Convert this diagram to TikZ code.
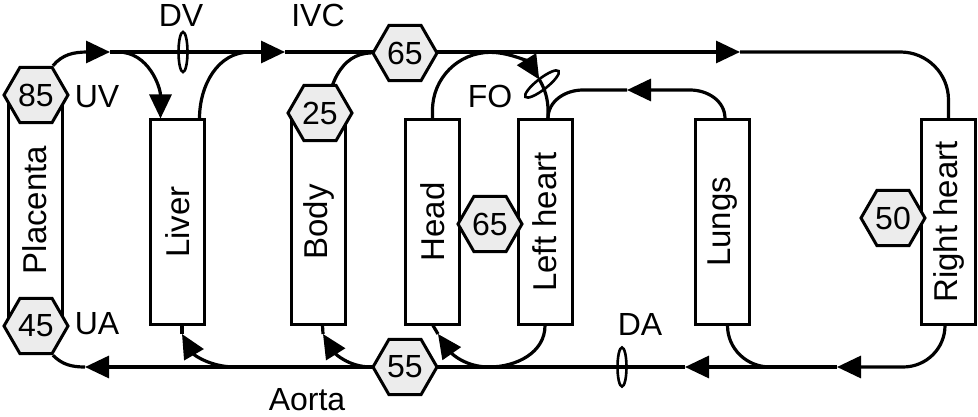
\documentclass[tikz,border=0pt]{standalone}
\usepackage{fontspec}
\usepackage{graphicx}
\setmainfont{Liberation Sans}
\usetikzlibrary{shapes.geometric,arrows.meta,backgrounds,calc}
\definecolor{hexfill}{RGB}{236,236,236}
\tikzset{
  organ/.style={draw, line width=3pt, fill=white, minimum width=54pt, minimum height=204pt, inner sep=0pt, font=\fontsize{33}{33}\selectfont},
  hexnode/.style={draw, line width=3pt, fill=hexfill, regular polygon, regular polygon sides=6, minimum size=64pt, inner sep=0pt, font=\fontsize{32}{32}\selectfont},
  lbl/.style={font=\fontsize{32}{32}\selectfont, inner sep=0pt},
  flow/.style={line width=3.2pt},
  arrowend/.style={-{Triangle[length=24pt,width=22pt]}},
  valve/.style={draw, ellipse, line width=2.6pt, inner sep=0pt},
}
\begin{document}
\begin{tikzpicture}[x=1pt,y=1pt]
\useasboundingbox (0,0) rectangle (978,416);
% organs
\node[organ, minimum height=230pt] (placenta) at (35,206) {\rotatebox{90}{Placenta}};
\node[organ] (liver) at (177.5,194) {\rotatebox{90}{Liver}};
\node[organ] (body) at (318.5,194) {\rotatebox{90}{Body}};
\node[organ] (head) at (432.5,194) {\rotatebox{90}{Head}};
\node[organ] (leftheart) at (545,194) {\rotatebox{90}{Left heart}};
\node[organ] (lungs) at (722.5,194) {\rotatebox{90}{Lungs}};
\node[organ] (rightheart) at (948.5,194) {\rotatebox{90}{Right heart}};
% saturation hexagons
\node[hexnode] (h85) at (36,321) {85};
\node[hexnode] (h45) at (36,90) {45};
\node[hexnode] (h65a) at (405,363) {65};
\node[hexnode] (h25) at (320,303) {25};
\node[hexnode] (h65b) at (490,192) {65};
\node[hexnode] (h55) at (405,49) {55};
\node[hexnode] (h50) at (893,198) {50};
% labels
\node[lbl] (uv) at (97,319) {UV};
\node[lbl] (ua) at (97,92) {UA};
\node[lbl] (dvl) at (181,401) {DV};
\node[lbl] (ivc) at (318,401) {IVC};
\node[lbl] (fol) at (490,320) {FO};
\node[lbl] (dal) at (640,92) {DA};
\node[lbl] (aorta) at (307,16) {Aorta};
% shunts
\node[valve, minimum width=9pt, minimum height=40pt] (dv) at (183,364) {};
\node[valve, minimum width=9pt, minimum height=39pt] (da) at (622,49) {};
\node[valve, minimum width=42pt, minimum height=11pt, rotate=38] (fo) at (542,332) {};
% connector points
\coordinate (t0) at (88,364);
\coordinate (t1) at (110,364);
\coordinate (t2) at (285,364);
\coordinate (t3) at (740,364);
\coordinate (lvin) at (118,364);
\coordinate (lvout) at (250,364);
\coordinate (lu0) at (690,326);
\coordinate (lu1) at (627,326);
\coordinate (lu2) at (583,326);
\coordinate (b0) at (903,49);
\coordinate (b1) at (837,49);
\coordinate (b2) at (685,49);
\coordinate (b3) at (85,49);
\coordinate (lub) at (770,49);
\coordinate (lhb) at (489,49);
\coordinate (lvb) at (235,49);
\coordinate (lvtip) at (182,82);
\coordinate (bdtip) at (323,82);
\coordinate (hdtip) at (438,82);
\begin{scope}[on background layer]
\fill[white] (0,0) rectangle (978,416);
% top line
\draw[flow,arrowend] (h85.60) to[out=50,in=180] (t0) -- (t1);
\draw[flow,arrowend] (t1) -- (t2);
\draw[flow,arrowend] (t2) -- (t3);
\draw[flow,rounded corners=48pt] (t3) -| (rightheart.north);
% liver
\draw[flow,arrowend] (lvin) to[out=0,in=90] ($(liver.north)+(-17,0)$);
\draw[flow] ($(liver.north)+(22,0)$) to[out=90,in=180] (lvout);
% body top
\draw[flow] ($(body.north)+(8.5,0)$) to[out=90,in=180] (h65a.west);
% head / left heart top with FO
\draw[flow,arrowend] (head.north) -- ++(0,8.4) arc[start angle=180,end angle=32,radius=57.75];
\draw[flow] ($(leftheart.north)+(3,0)$) -- ++(0,8.4) arc[start angle=0,end angle=32,radius=57.75];
% lungs to left heart
\draw[flow,arrowend] ($(lungs.north)+(2.5,0)$) to[out=90,in=0] (lu0) -- (lu1);
\draw[flow] (lu1) -- (lu2) to[out=180,in=90] ($(leftheart.north)+(3,0)$);
% bottom line
\draw[flow,arrowend] ($(rightheart.south)+(-3.5,0)$) to[out=-90,in=0] (b0) -- (b1);
\draw[flow,arrowend] (b1) -- (b2);
\draw[flow,arrowend] (b2) -- (b3);
\draw[flow] (b3) to[out=180,in=-45] (h45.300);
% lungs bottom
\draw[flow] ($(lungs.south)+(5,0)$) to[out=-90,in=180] (lub);
% left heart bottom to head
\draw[flow,arrowend] (leftheart.south) to[out=-90,in=0] (lhb) to[out=180,in=-55] (hdtip);
\draw[flow] (hdtip) -- ($(head.south)+(0.5,0)$);
% aorta to body
\draw[flow,arrowend] (h55.west) to[out=180,in=-58] (bdtip);
\draw[flow] (bdtip) -- ($(body.south)+(4,0)$);
% aorta to liver
\draw[flow,arrowend] (lvb) to[out=180,in=-60] (lvtip);
\draw[flow] (lvtip) -- ($(liver.south)+(4.5,0)$);
\end{scope}
\end{tikzpicture}
\end{document}
